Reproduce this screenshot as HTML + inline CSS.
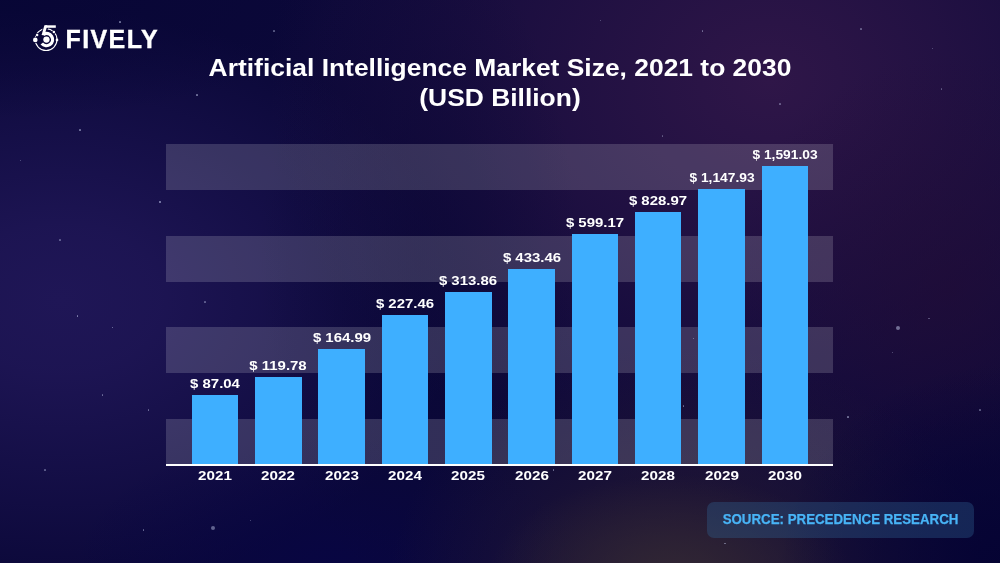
<!DOCTYPE html>
<html>
<head>
<meta charset="utf-8">
<style>
html,body{margin:0;padding:0;}
body{width:1000px;height:563px;overflow:hidden;position:relative;font-family:"Liberation Sans",Arial,sans-serif;color:#fff;
background:#140e4a;}
#bg{position:absolute;left:0;top:0;width:1000px;height:563px;
background:
radial-gradient(ellipse 220px 200px at 1000px 563px, rgba(5,3,51,0.95), rgba(5,3,51,0) 100%),
radial-gradient(ellipse 220px 240px at 950px 290px, rgba(34,12,52,0.55), rgba(34,12,52,0) 100%),
radial-gradient(ellipse 180px 100px at 670px 575px, rgba(50,40,52,0.9), rgba(50,40,52,0) 100%),
radial-gradient(ellipse 300px 240px at 690px 585px, rgba(42,28,50,0.9), rgba(42,28,50,0) 100%),
radial-gradient(ellipse 160px 330px at 420px 260px, rgba(10,7,54,0.6), rgba(10,7,54,0) 100%),
radial-gradient(ellipse 260px 130px at 330px 563px, rgba(7,5,68,0.8), rgba(7,5,68,0) 100%),
radial-gradient(ellipse 350px 120px at 0px 0px, rgba(6,5,52,0.7), rgba(6,5,52,0) 100%),
radial-gradient(ellipse 500px 420px at 770px 80px, rgba(47,22,72,1), rgba(47,22,72,0) 100%),
radial-gradient(ellipse 400px 290px at 60px 300px, rgba(31,22,86,1) 0%, rgba(31,22,86,0.88) 25%, rgba(31,22,86,0) 100%),
#0b0839;}
.band{position:absolute;left:166px;width:667px;height:46px;background:rgba(255,255,255,0.16);}
.bar{position:absolute;width:46.5px;background:#3eafff;bottom:99px;}
.val{position:absolute;width:100px;text-align:center;font-weight:bold;font-size:13px;line-height:13px;white-space:nowrap;transform:scaleX(1.15);}
.yr{position:absolute;width:60px;text-align:center;font-weight:bold;font-size:13px;line-height:13px;top:469px;transform:scaleX(1.17);}
#axis{position:absolute;left:166px;width:667px;top:464px;height:2px;background:#fff;}
#title{position:absolute;left:0;width:1000px;top:53.3px;text-align:center;font-weight:bold;font-size:24.5px;line-height:30px;transform:scaleX(1.078);}
#logo{position:absolute;left:65.5px;top:27px;font-weight:bold;font-size:25px;line-height:25px;letter-spacing:1.4px;-webkit-text-stroke:0.35px #fff;}
#src{position:absolute;left:707px;top:502px;width:267px;height:36px;border-radius:7px;background:rgba(50,100,150,0.35);}
#srct{position:absolute;left:0;top:0;width:267px;height:36px;color:#48b4f6;font-weight:bold;font-size:14px;line-height:35.5px;text-align:center;transform:scaleX(0.95);-webkit-text-stroke:0.25px #48b4f6;}
.star{position:absolute;border-radius:50%;background:#c8d0f0;}
</style>
</head>
<body>
<div id="bg"></div>
<div class="star" style="left:119.4px;top:21.4px;width:1.2px;height:1.2px;opacity:0.50"></div>
<div class="star" style="left:79.4px;top:129.4px;width:1.2px;height:1.2px;opacity:0.50"></div>
<div class="star" style="left:159.3px;top:201.3px;width:1.4px;height:1.4px;opacity:0.60"></div>
<div class="star" style="left:196.4px;top:94.4px;width:1.2px;height:1.2px;opacity:0.50"></div>
<div class="star" style="left:273.4px;top:30.4px;width:1.2px;height:1.2px;opacity:0.40"></div>
<div class="star" style="left:76.8px;top:315.3px;width:1.4px;height:1.4px;opacity:0.60"></div>
<div class="star" style="left:111.8px;top:326.8px;width:1.4px;height:1.4px;opacity:0.60"></div>
<div class="star" style="left:101.9px;top:394.4px;width:1.2px;height:1.2px;opacity:0.50"></div>
<div class="star" style="left:147.9px;top:409.4px;width:1.2px;height:1.2px;opacity:0.50"></div>
<div class="star" style="left:210.5px;top:525.5px;width:4px;height:4px;opacity:0.45;filter:blur(0.5px)"></div>
<div class="star" style="left:142.9px;top:529.4px;width:1.2px;height:1.2px;opacity:0.50"></div>
<div class="star" style="left:204.4px;top:301.4px;width:1.2px;height:1.2px;opacity:0.40"></div>
<div class="star" style="left:701.9px;top:30.4px;width:1.2px;height:1.2px;opacity:0.50"></div>
<div class="star" style="left:661.9px;top:135.4px;width:1.2px;height:1.2px;opacity:0.40"></div>
<div class="star" style="left:779.4px;top:103.4px;width:1.2px;height:1.2px;opacity:0.40"></div>
<div class="star" style="left:931.9px;top:47.9px;width:1.2px;height:1.2px;opacity:0.40"></div>
<div class="star" style="left:860.4px;top:28.4px;width:1.2px;height:1.2px;opacity:0.40"></div>
<div class="star" style="left:940.9px;top:88.4px;width:1.2px;height:1.2px;opacity:0.40"></div>
<div class="star" style="left:895.7px;top:326.2px;width:4px;height:4px;opacity:0.5;filter:blur(0.5px)"></div>
<div class="star" style="left:847.4px;top:416.4px;width:1.2px;height:1.2px;opacity:0.50"></div>
<div class="star" style="left:692.9px;top:337.9px;width:1.2px;height:1.2px;opacity:0.50"></div>
<div class="star" style="left:682.9px;top:405.4px;width:1.2px;height:1.2px;opacity:0.50"></div>
<div class="star" style="left:552.6px;top:469.1px;width:1.8px;height:1.8px;opacity:0.50"></div>
<div class="star" style="left:891.9px;top:351.9px;width:1.2px;height:1.2px;opacity:0.40"></div>
<div class="star" style="left:928.4px;top:317.9px;width:1.2px;height:1.2px;opacity:0.40"></div>
<div class="star" style="left:724.4px;top:542.9px;width:1.2px;height:1.2px;opacity:0.50"></div>
<div class="star" style="left:44.4px;top:469.4px;width:1.2px;height:1.2px;opacity:0.40"></div>
<div class="star" style="left:59.4px;top:239.4px;width:1.2px;height:1.2px;opacity:0.40"></div>
<div class="star" style="left:19.5px;top:159.5px;width:1.0px;height:1.0px;opacity:0.40"></div>
<div class="star" style="left:249.5px;top:519.5px;width:1.0px;height:1.0px;opacity:0.40"></div>
<div class="star" style="left:979.4px;top:409.4px;width:1.2px;height:1.2px;opacity:0.40"></div>
<div class="star" style="left:599.5px;top:19.5px;width:1.0px;height:1.0px;opacity:0.40"></div>

<svg style="position:absolute;left:30px;top:22px" width="32" height="32" viewBox="0 0 32 32">
  <circle cx="16.1" cy="17.6" r="10.9" fill="none" stroke="#fff" stroke-width="1.05"/>
  <circle cx="16.45" cy="17.6" r="6.1" fill="none" stroke="#0b0838" stroke-width="5.6"/>
  <path d="M16.3 3.6 L13.0 13.4" fill="none" stroke="#0b0838" stroke-width="5"/>
  <path d="M13.59 12.21 A6.10 6.10 0 1 1 11.78 21.52" fill="none" stroke="#fff" stroke-width="3.3"/>
  <path d="M15.2 4.55 H25.8" fill="none" stroke="#fff" stroke-width="2.5"/>
  <path d="M14.4 3.3 L17.3 3.3 L14.6 13.4 L11.6 13.0 Z" fill="#fff"/>
  <circle cx="16.45" cy="17.6" r="3.15" fill="#fff"/>
  <circle cx="5.3" cy="17.9" r="3.0" fill="#0b0838"/>
  <circle cx="5.3" cy="17.9" r="2.3" fill="#fff"/>
  <circle cx="7.1" cy="12.9" r="1.9" fill="#0b0838"/>
  <circle cx="7.1" cy="12.9" r="1.25" fill="#fff"/>
  <circle cx="27.0" cy="17.9" r="1.35" fill="#fff"/>
  <circle cx="23.9" cy="10.1" r="1.9" fill="#0b0838"/>
  <circle cx="23.9" cy="10.1" r="1.25" fill="#fff"/>
</svg>
<div id="logo">FIVELY</div>

<div id="title">Artificial Intelligence Market Size, 2021 to 2030<br>(USD Billion)</div>

<div class="band" style="top:144px"></div>
<div class="band" style="top:236px"></div>
<div class="band" style="top:327px"></div>
<div class="band" style="top:418.5px;height:45.5px"></div>



<div class="bar" style="left:191.8px;top:395.2px"></div>
<div class="bar" style="left:255.1px;top:377.4px"></div>
<div class="bar" style="left:318.4px;top:348.5px"></div>
<div class="bar" style="left:381.7px;top:315.0px"></div>
<div class="bar" style="left:445.0px;top:291.8px"></div>
<div class="bar" style="left:508.3px;top:269.0px"></div>
<div class="bar" style="left:571.6px;top:234.2px"></div>
<div class="bar" style="left:634.9px;top:211.7px"></div>
<div class="bar" style="left:698.2px;top:188.5px"></div>
<div class="bar" style="left:761.5px;top:166.1px"></div>
<div class="val" style="left:165.1px;top:377.2px">$ 87.04</div>
<div class="val" style="left:228.4px;top:359.4px">$ 119.78</div>
<div class="val" style="left:291.6px;top:330.5px">$ 164.99</div>
<div class="val" style="left:354.9px;top:297.0px">$ 227.46</div>
<div class="val" style="left:418.2px;top:273.8px">$ 313.86</div>
<div class="val" style="left:481.5px;top:251.0px">$ 433.46</div>
<div class="val" style="left:544.8px;top:216.2px">$ 599.17</div>
<div class="val" style="left:608.1px;top:193.7px">$ 828.97</div>
<div class="val" style="left:671.5px;top:170.5px;transform:scaleX(1.06)">$ 1,147.93</div>
<div class="val" style="left:734.8px;top:148.1px;transform:scaleX(1.06)">$ 1,591.03</div>
<div id="axis"></div>
<div class="yr" style="left:185.1px">2021</div>
<div class="yr" style="left:248.4px">2022</div>
<div class="yr" style="left:311.6px">2023</div>
<div class="yr" style="left:374.9px">2024</div>
<div class="yr" style="left:438.2px">2025</div>
<div class="yr" style="left:501.5px">2026</div>
<div class="yr" style="left:564.8px">2027</div>
<div class="yr" style="left:628.1px">2028</div>
<div class="yr" style="left:691.5px">2029</div>
<div class="yr" style="left:754.8px">2030</div>


<div id="src"><div id="srct">SOURCE: PRECEDENCE RESEARCH</div></div>
</body>
</html>
